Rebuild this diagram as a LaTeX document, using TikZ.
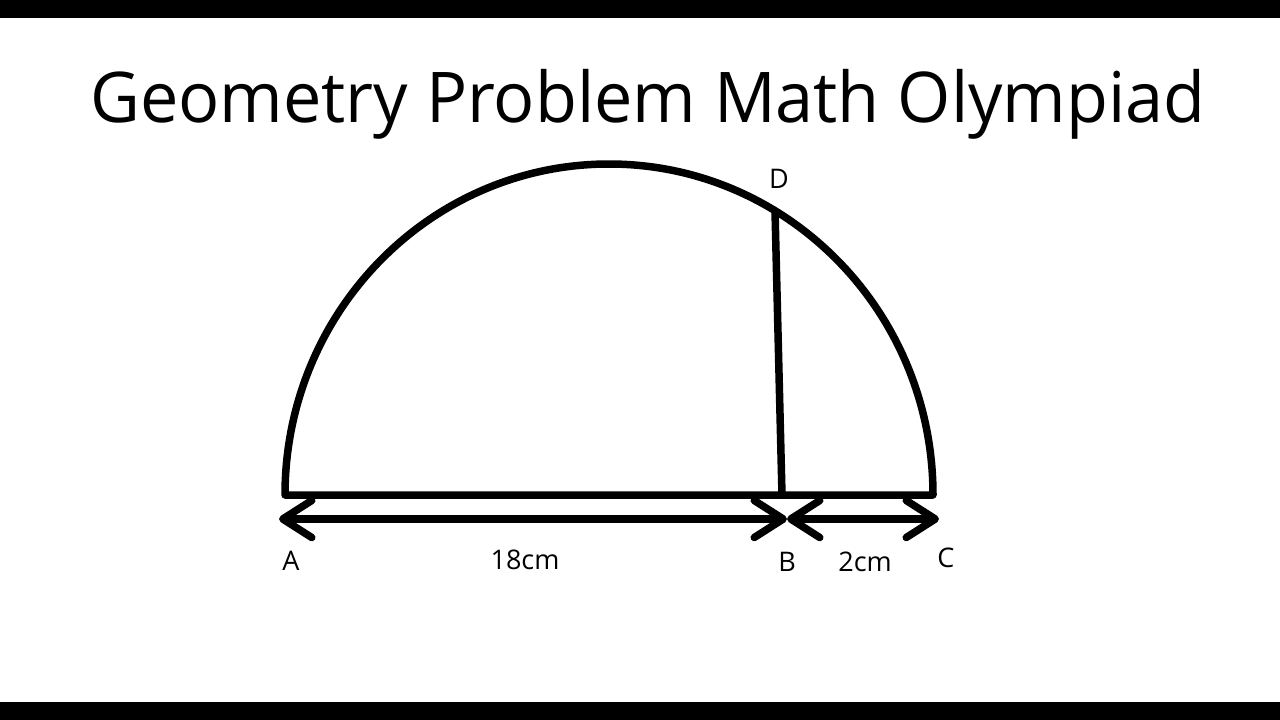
\documentclass[tikz,border=0pt]{standalone}
\usepackage{fontspec}
\setmainfont{Open Sans}
\usepackage{tikz}
\usetikzlibrary{arrows.meta}
\usetikzlibrary{positioning}
\tikzset{thick line/.style = {line width = 7.5pt, line join = round}}
\tikzset{dim/.style = {line width = 7.5pt, line cap = round,
                       arrows = {Straight Barb[length = 29pt, width = 37pt, round]-Straight Barb[length = 29pt, width = 37pt, round]}}}
\tikzset{lbl/.style = {anchor = base, inner sep = 0, font = \fontsize{27}{32}\selectfont}}

\begin{document}
\begin{tikzpicture}[x = 1pt, y = -1pt]
    \useasboundingbox (0, 0) rectangle (1280, 720);
    \fill [white] (0, 0) rectangle (1280, 720);
    \fill [black] (0, 0) rectangle (1280, 18);
    \fill [black] (0, 702) rectangle (1280, 720);

    \node [anchor = base, inner sep = 0, xscale = 0.977, font = \fontsize{70}{84}\selectfont] (title) at (648, 122)
        {Geometry Problem Math Olympiad};

    \coordinate (A) at (285, 495);
    \coordinate (B) at (782, 495);
    \coordinate (C) at (933, 495);
    \coordinate (D) at (775, 211);

    % semicircle and chord
    \draw [thick line] (A) -- (C) arc [start angle = 0, end angle = -180, x radius = 324, y radius = 331] -- cycle;
    \draw [thick line] (D) -- (B);

    % lengths
    \coordinate (a) at (279, 519);
    \coordinate (b) at (787, 519);
    \coordinate (c) at (939, 519);
    \draw [dim] (a) -- (b);
    \draw [dim] (b) -- (c);

    \node [lbl] (labA) at (291, 570) {A};
    \node [lbl] (labAB) at (525, 569) {18cm};
    \node [lbl] (labB) at (787, 571) {B};
    \node [lbl] (labBC) at (865, 571) {2cm};
    \node [lbl] (labC) at (946, 567) {C};
    \node [lbl] (labD) at (779, 188) {D};
  \end{tikzpicture}
\end{document}
